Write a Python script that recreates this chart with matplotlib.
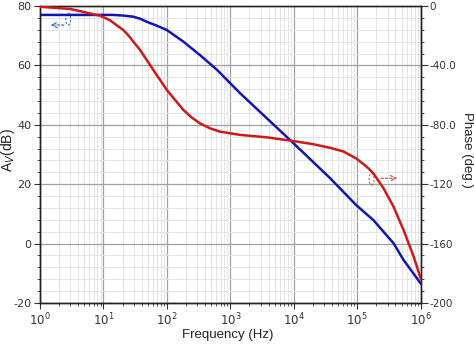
import matplotlib
matplotlib.use("Agg")
import matplotlib.pyplot as plt
from matplotlib.ticker import MultipleLocator, LogLocator, NullFormatter
from matplotlib.patches import Ellipse

# ---- data ----
gain_freq = [1, 8.8, 14, 20, 29.6, 38, 48, 69, 100, 182, 331, 617, 1430, 10000, 37500, 96000, 180000,
             374000, 537000, 1000000]
gain_db = [77.0, 77.0, 77.0, 76.8, 76.4, 75.7, 74.7, 73.4, 71.9, 68.0, 63.5, 58.5, 50.6, 33.7, 22.0,
           13.0, 7.9, 0.1, -5.5, -13.4]

phase_freq = [1, 3, 8.8, 12.6, 16, 20.6, 25, 29.6, 37.8, 61, 100, 182, 245, 331, 479, 692, 1430, 3900,
              10000, 20000, 37500, 61000, 96000, 141000, 180000, 260000, 374000, 537000, 776000, 1000000]
phase_deg = [-0.5, -2.0, -6.5, -9.5, -12.8, -16.2, -20.0, -24.0, -29.6, -43.0, -56.6, -70.0, -75.0,
             -79.0, -82.4, -84.6, -86.8, -88.5, -91.0, -93.0, -95.5, -98.0, -102.6, -108.2, -112.7,
             -122.8, -135.2, -150.8, -168.8, -183.4]

x_ticks = [1, 10, 100, 1000, 10000, 100000, 1000000]
x_tick_labels = ["$10^{%d}$" % k for k in range(7)]
left_ticks = [-20, 0, 20, 40, 60, 80]
left_tick_labels = ["-20", "0", "20", "40", "60", "80"]
right_ticks = [-200, -160, -120, -80, -40, 0]
right_tick_labels = ["-200", "-160", "-120", "-80.0", "-40.0", "0"]

plt.rcParams['font.family'] = ['DejaVu Sans']
fig = plt.figure(figsize=(4.74, 3.45), dpi=100)
ax = fig.add_axes([0.0844, 0.1217, 0.8031, 0.8609])
ax2 = ax.twinx()

ax.set_xscale('log')
ax.set_xlim(1, 1e6)
ax.set_ylim(-20, 80)
ax2.set_ylim(-200, 0)

ax.set_xticks(x_ticks)
ax.set_xticklabels(x_tick_labels)
ax.xaxis.set_minor_locator(LogLocator(base=10, subs=range(2, 10), numticks=100))
ax.xaxis.set_minor_formatter(NullFormatter())
ax.set_yticks(left_ticks)
ax.set_yticklabels(left_tick_labels)
ax.yaxis.set_minor_locator(MultipleLocator(4))
ax2.set_yticks(right_ticks)
ax2.set_yticklabels(right_tick_labels)
ax2.yaxis.set_minor_locator(MultipleLocator(8))

ax.grid(which='minor', color='#e4e4e4', lw=0.7)
ax.grid(which='major', color='#a0a0a0', lw=0.9)
ax.set_axisbelow(True)

tc = '#333333'
ax.tick_params(which='major', direction='out', length=4, width=0.8, labelsize=8, colors=tc, pad=2)
ax.tick_params(which='minor', direction='out', length=2, width=0.6, colors=tc)
ax.tick_params(axis='x', which='major', labelsize=8.5, pad=2)
ax2.tick_params(which='major', direction='out', length=5, width=0.8, labelsize=7.5, colors=tc, pad=1)
ax2.tick_params(which='minor', direction='out', length=2, width=0.6, colors=tc)
for a in (ax, ax2):
    for s in a.spines.values():
        s.set_color('#222222')
        s.set_linewidth(1.0)
ax.spines['top'].set_color('#555555')

ax.plot(gain_freq, gain_db, color='#1414b4', lw=1.8, zorder=3, solid_joinstyle='round')
ax2.plot(phase_freq, phase_deg, color='#d01818', lw=1.8, zorder=3, solid_joinstyle='round')

lab_font = ['Liberation Sans', 'DejaVu Sans']
fig.text(228 / 474, 1 - 335 / 345, 'Frequency (Hz)', fontsize=9.5, family=lab_font,
         color='#222222', ha='center', va='center')
fig.text(8 / 474, 1 - 150 / 345, 'A$_V$(dB)', fontsize=10, family=lab_font,
         color='#222222', ha='center', va='center', rotation=90)
fig.text(467 / 474, 1 - 150 / 345, 'Phase (deg.)', fontsize=9.5, family=lab_font,
         color='#222222', ha='center', va='center', rotation=270)

# annotation arrows
ax.annotate('', xy=(0.020, 0.936), xytext=(0.070, 0.936), xycoords='axes fraction',
            arrowprops=dict(arrowstyle='->', color='#4070b0', lw=0.9, ls=(0, (2, 1.5))))
ax.add_patch(Ellipse((0.074, 0.956), 0.013, 0.040, transform=ax.transAxes, fill=False,
                     ec='#4070b0', lw=0.8, ls=(0, (2, 1.5))))
ax.annotate('', xy=(0.946, 0.42), xytext=(0.888, 0.42), xycoords='axes fraction',
            arrowprops=dict(arrowstyle='->', color='#c06060', lw=0.9, ls=(0, (2, 1.5))))
ax.add_patch(Ellipse((0.871, 0.417), 0.013, 0.040, transform=ax.transAxes, fill=False,
                     ec='#c06060', lw=0.8, ls=(0, (2, 1.5))))

fig.savefig('out.png', dpi=100)
